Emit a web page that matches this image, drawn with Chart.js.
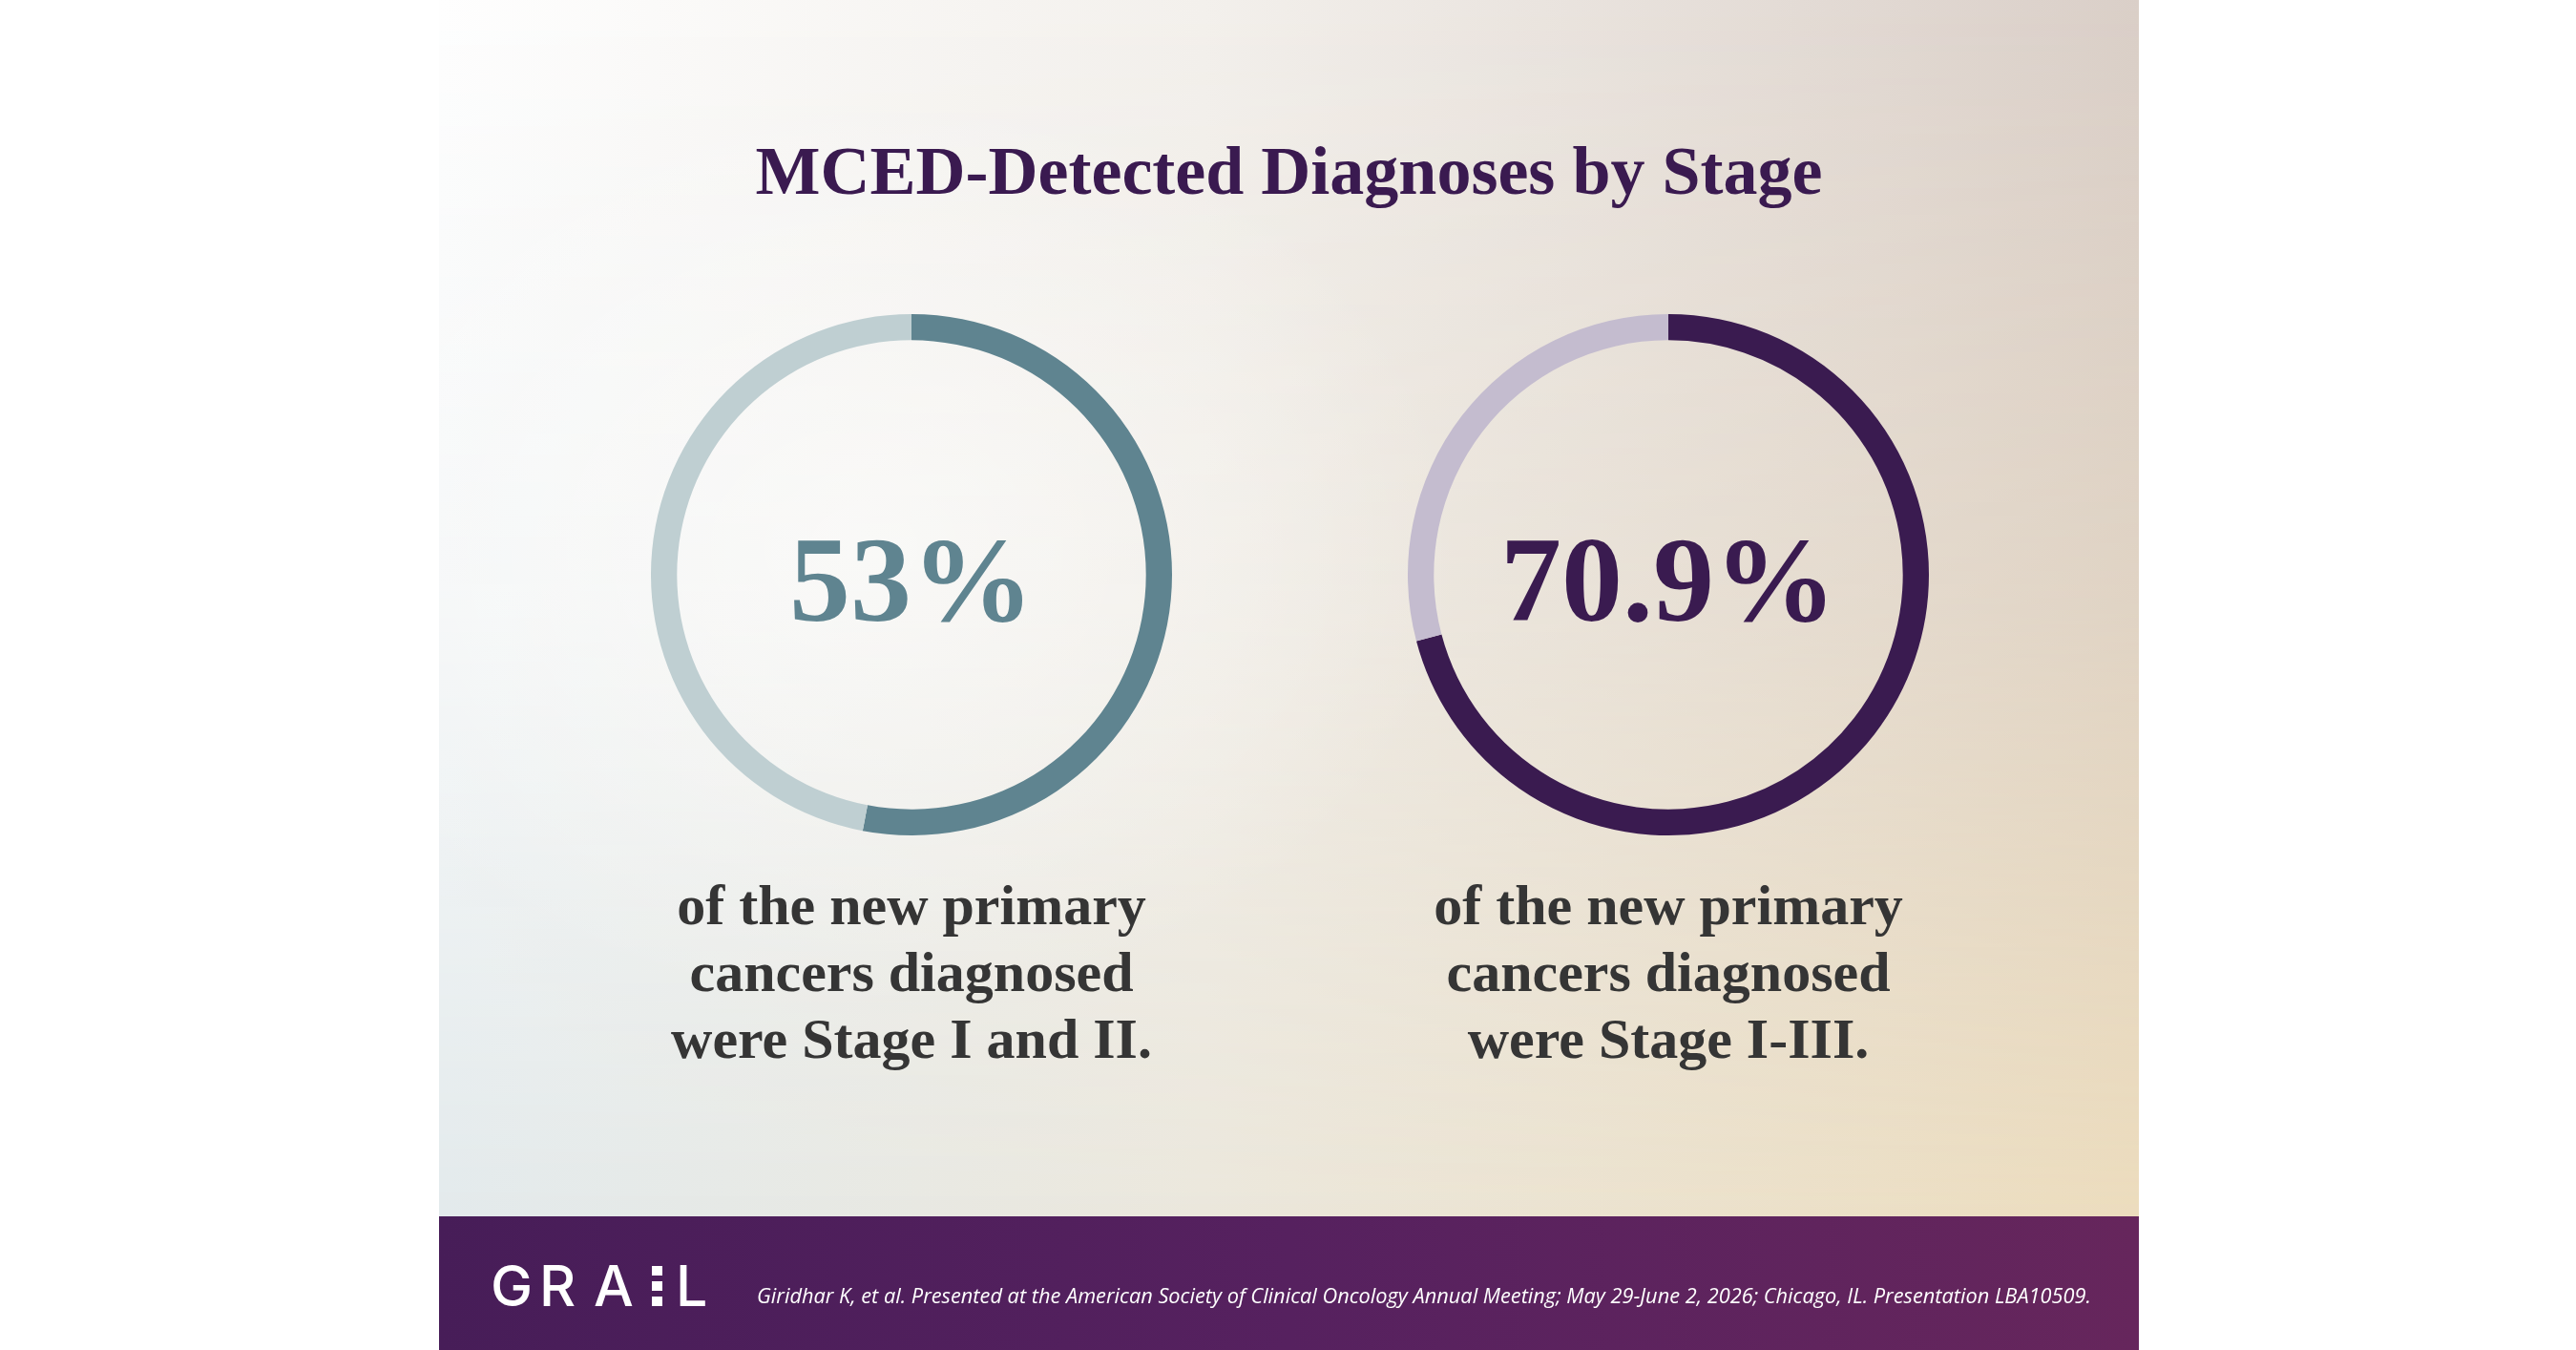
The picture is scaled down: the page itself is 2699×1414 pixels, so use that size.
<!DOCTYPE html>
<html>
<head>
<meta charset="utf-8">
<script src="https://cdn.jsdelivr.net/npm/chart.js@4/dist/chart.umd.min.js"></script>
<style>
  html, body { margin: 0; padding: 0; background: #ffffff; }
  body { width: 2699px; height: 1414px; position: relative; overflow: hidden; }
  #panel {
    position: absolute; left: 460px; top: 0; width: 1781px; height: 1274px;
    background: linear-gradient(to right, #fefefe 0%, #f3f0ec 45%, #dacfc8 100%);
    overflow: hidden;
  }
  #panel::before {
    content: ""; position: absolute; inset: 0;
    background: linear-gradient(to right, #e3eaec 0%, #ebe7dc 45%, #ecdcbd 100%);
    -webkit-mask-image: linear-gradient(to bottom, transparent 0%, rgba(0,0,0,0.35) 50%, #000 100%);
    mask-image: linear-gradient(to bottom, transparent 0%, rgba(0,0,0,0.35) 50%, #000 100%);
  }
  #panel::after {
    content: ""; position: absolute; inset: 0;
    background: radial-gradient(ellipse 900px 700px at 25% 45%, rgba(255,255,255,0.55), rgba(255,255,255,0) 70%);
  }
  #footer {
    position: absolute; left: 460px; top: 1274px; width: 1781px; height: 140px;
    background: linear-gradient(to right, #471d58 0%, #56215f 50%, #66265c 100%);
  }
  .serif { font-family: "Liberation Serif", "Times New Roman", serif; font-weight: 700; }
  #title {
    position: absolute; left: 460px; width: 1781px; top: 143px; text-align: center;
    font-size: 72px; line-height: 72px; color: #3a1a50; white-space: nowrap; z-index: 2;
  }
  .donut { position: absolute; width: 546px; height: 546px; z-index: 2; }
  .pct {
    position: absolute; width: 546px; text-align: center; font-size: 128px; line-height: 128px;
    white-space: nowrap; z-index: 3;
  }
  .sub {
    position: absolute; width: 700px; text-align: center; font-size: 60px; line-height: 70px;
    color: #353535; z-index: 3;
  }
  .logo {
    position: absolute; font-family: Inter, "Open Sans", sans-serif; font-weight: 500; font-size: 59px;
    line-height: 59px; color: #ffffff; top: 1317px; z-index: 4;
  }
  .bar { position: absolute; left: 683px; width: 11px; height: 10px; background: #ffffff; z-index: 4; }
  #cite {
    position: absolute; left: 793px; top: 1347px; font-family: "Open Sans", sans-serif; font-style: italic;
    font-weight: 400; font-size: 21px; line-height: 21px; color: #ffffff; white-space: nowrap; z-index: 4;
    transform-origin: left center;
  }
</style>
</head>
<body>
<div id="panel"></div>
<div id="footer"></div>

<div id="title" class="serif">MCED-Detected Diagnoses by Stage</div>

<div class="donut" style="left:682px; top:329px;"><canvas id="c1" width="546" height="546"></canvas></div>
<div class="donut" style="left:1475px; top:329px;"><canvas id="c2" width="546" height="546"></canvas></div>

<div id="p1" class="pct serif" style="left:682px; top:543px; color:#5f8490;"></div>
<div id="p2" class="pct serif" style="left:1475px; top:543px; color:#3a1b50;"></div>

<div id="s1" class="sub serif" style="left:605px; top:913px;"></div>
<div id="s2" class="sub serif" style="left:1398px; top:913px;"></div>

<span class="logo" style="left:514px;">G</span>
<span class="logo" style="left:565px;">R</span>
<span class="logo" style="left:622px;">A</span>
<div class="bar" style="top:1326px;"></div>
<div class="bar" style="top:1342px;"></div>
<div class="bar" style="top:1358px;"></div>
<span class="logo" style="left:708px;">L</span>

<div id="cite">Giridhar K, et al. Presented at the American Society of Clinical Oncology Annual Meeting; May 29-June 2, 2026; Chicago, IL. Presentation LBA10509.</div>

<script>
// ---- data ----
const segmentLabels = ['Detected at stage', 'Other stages'];
const stageIandIIValues = [53, 47];
const stageItoIIIValues = [70.9, 29.1];
const percentLabels = ['53%', '70.9%'];
const captionLines1 = ['of the new primary', 'cancers diagnosed', 'were Stage I and II.'];
const captionLines2 = ['of the new primary', 'cancers diagnosed', 'were Stage I-III.'];
const colors1 = ['#5f8490', '#bfcfd2'];
const colors2 = ['#3a1b50', '#c4bccf'];

function makeDonut(id, values, colors) {
  return new Chart(document.getElementById(id), {
    type: 'doughnut',
    data: {
      labels: segmentLabels,
      datasets: [{ data: values, backgroundColor: colors, borderWidth: 0, hoverOffset: 0 }]
    },
    options: {
      responsive: false,
      animation: false,
      cutout: '90%',
      rotation: 0,
      layout: { padding: 0 },
      plugins: { legend: { display: false }, tooltip: { enabled: false }, title: { display: false } }
    }
  });
}
makeDonut('c1', stageIandIIValues, colors1);
makeDonut('c2', stageItoIIIValues, colors2);

document.getElementById('p1').textContent = percentLabels[0];
document.getElementById('p2').textContent = percentLabels[1];
document.getElementById('s1').innerHTML = captionLines1.join('<br>');
document.getElementById('s2').innerHTML = captionLines2.join('<br>');

// fit citation to its measured width in the reference
const cite = document.getElementById('cite');
const w = cite.getBoundingClientRect().width;
cite.style.transform = 'scaleX(' + (1398 / w) + ')';
</script>
</body>
</html>
